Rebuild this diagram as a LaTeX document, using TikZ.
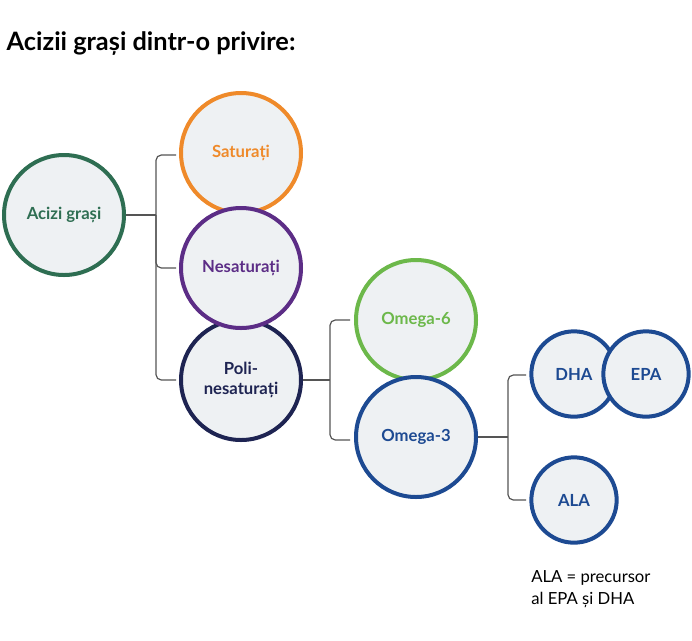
\documentclass[tikz,border=0pt]{standalone}
\usepackage{fontspec}
\setmainfont{Lato}
\begin{document}
\begin{tikzpicture}[x=0.75pt,y=-0.75pt,
  big/.style={circle,draw,line width=3pt,fill=cfill,minimum size=90pt,inner sep=0pt,font=\bfseries\fontsize{12.5}{15}\selectfont,align=center},
  small/.style={big,minimum size=64pt},
  br/.style={draw=lgray,line width=0.9pt,rounded corners=4pt}]
\definecolor{cfill}{HTML}{EEF1F3}
\definecolor{cgreen}{HTML}{2E6E52}
\definecolor{corange}{HTML}{EF8A2A}
\definecolor{cpurple}{HTML}{5C2D86}
\definecolor{cnavy}{HTML}{1E2452}
\definecolor{clgreen}{HTML}{6CB84A}
\definecolor{cblue}{HTML}{1D4A92}
\definecolor{lgray}{HTML}{555555}
\useasboundingbox (0,0) rectangle (692,640);
\node[anchor=west,font=\bfseries\fontsize{19}{21}\selectfont] (title) at (2,44) {Acizii grași dintr-o privire:};
% brackets
\coordinate (b1t) at (176,155); \coordinate (b1m) at (176,268); \coordinate (b1b) at (176,380); \coordinate (b1) at (156,215);
\coordinate (b2t) at (350,320); \coordinate (b2b) at (350,440); \coordinate (b2) at (330,380);
\coordinate (b3t) at (526,375); \coordinate (b3b) at (526,500); \coordinate (b3) at (508,437);
\node[big,draw=cgreen,text=cgreen] (acizi) at (64,215) {Acizi grași};
\draw[br] (acizi.east) -- (b1);
\draw[br] (b1t) -| (b1) |- (b1b);
\draw[br] (b1) |- (b1m);
\node[big,draw=corange,text=corange] (sat) at (241,153) {Saturați};
\node[big,draw=cnavy,text=cnavy] (poli) at (241,380) {Poli-\\nesaturați};
\node[big,draw=cpurple,text=cpurple] (nes) at (241,268) {Nesaturați};
\draw[br] (poli.east) -- (b2);
\draw[br] (b2t) -| (b2) |- (b2b);
\node[big,draw=clgreen,text=clgreen] (o6) at (416,320) {Omega-6};
\node[big,draw=cblue,text=cblue] (o3) at (416,437) {Omega-3};
\draw[br] (o3.east) -- (b3);
\draw[br] (b3t) -| (b3) |- (b3b);
\node[small,draw=cblue,text=cblue] (dha) at (574,374) {DHA};
\node[small,draw=cblue,text=cblue] (epa) at (646,374) {EPA};
\node[small,draw=cblue,text=cblue] (ala) at (574,500) {ALA};
\node[anchor=north west,align=left,font=\fontsize{12.5}{17}\selectfont,inner sep=0pt] (note) at (531,570) {ALA = precursor\\al EPA și DHA};
\end{tikzpicture}
\end{document}
